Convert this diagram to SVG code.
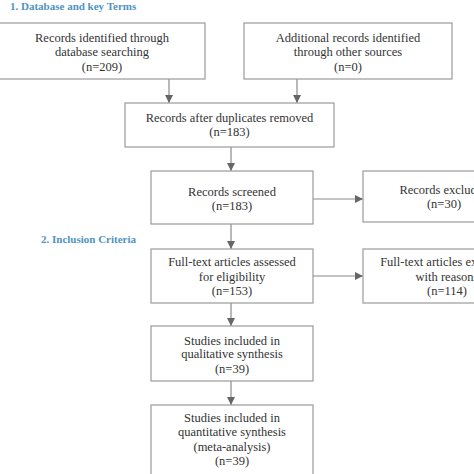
<svg xmlns="http://www.w3.org/2000/svg" width="474" height="474" viewBox="0 0 474 474">
<style>
.box{fill:#fff;stroke:#9a9a9a;stroke-width:1.2}
.c{stroke:#8a8a8a;stroke-width:1.2;fill:none}
</style>
<defs>
<marker id="ah" markerWidth="10" markerHeight="10" refX="8" refY="4" orient="auto" markerUnits="userSpaceOnUse">
<path d="M0,0 L8,4 L0,8 Z" fill="#666"/>
</marker>
</defs>
<rect width="474" height="474" fill="#fff"/>
<g font-family="'Liberation Serif', serif" font-size="11" font-weight="bold" fill="#4f93c2">
<text x="10" y="10">1. Database and key Terms</text>
<text x="41" y="243">2. Inclusion Criteria</text>
</g>
<g id="connectors">
<line class="c" x1="169" y1="79" x2="169" y2="103" marker-end="url(#ah)"/>
<line class="c" x1="297" y1="79" x2="297" y2="103" marker-end="url(#ah)"/>
<line class="c" x1="231" y1="147" x2="231" y2="171" marker-end="url(#ah)"/>
<line class="c" x1="231" y1="224" x2="231" y2="249" marker-end="url(#ah)"/>
<line class="c" x1="231" y1="303" x2="231" y2="326" marker-end="url(#ah)"/>
<line class="c" x1="231" y1="381" x2="231" y2="405" marker-end="url(#ah)"/>
<line class="c" x1="313" y1="199" x2="363" y2="199" marker-end="url(#ah)"/>
<line class="c" x1="313" y1="276" x2="363" y2="276" marker-end="url(#ah)"/>
</g>
<g font-family="'Liberation Serif', serif" font-size="12.5" fill="#333" text-anchor="middle">
<g id="n1">
<rect class="box" x="-1" y="23" width="206" height="56"/>
<text x="102" y="42">Records identified through</text>
<text x="102" y="56">database searching</text>
<text x="102" y="71">(n=209)</text>
</g>
<g id="n2">
<rect class="box" x="244" y="23" width="208" height="56"/>
<text x="348" y="42">Additional records identified</text>
<text x="348" y="56">through other sources</text>
<text x="348" y="71">(n=0)</text>
</g>
<g id="n3">
<rect class="box" x="125" y="103" width="209" height="44"/>
<text x="229.5" y="122">Records after duplicates removed</text>
<text x="229.5" y="136">(n=183)</text>
</g>
<g id="n4">
<rect class="box" x="151" y="171" width="162" height="53"/>
<text x="232" y="196">Records screened</text>
<text x="232" y="210">(n=183)</text>
</g>
<g id="n5">
<rect class="box" x="363" y="171" width="162" height="51"/>
<text x="444" y="194">Records excluded</text>
<text x="444" y="208">(n=30)</text>
</g>
<g id="n6">
<rect class="box" x="151" y="249" width="162" height="54"/>
<text x="232" y="266">Full-text articles assessed</text>
<text x="232" y="281">for eligibility</text>
<text x="232" y="295">(n=153)</text>
</g>
<g id="n7">
<rect class="box" x="363" y="249" width="162" height="54"/>
<text x="447" y="266">Full-text articles excluded,</text>
<text x="447" y="281">with reasons</text>
<text x="447" y="295">(n=114)</text>
</g>
<g id="n8">
<rect class="box" x="151" y="326" width="162" height="55"/>
<text x="232" y="345">Studies included in</text>
<text x="232" y="358">qualitative synthesis</text>
<text x="232" y="373">(n=39)</text>
</g>
<g id="n9">
<rect class="box" x="151" y="405" width="162" height="75"/>
<text x="232" y="422">Studies included in</text>
<text x="232" y="436">quantitative synthesis</text>
<text x="232" y="451">(meta-analysis)</text>
<text x="232" y="465">(n=39)</text>
</g>
</g>
</svg>
